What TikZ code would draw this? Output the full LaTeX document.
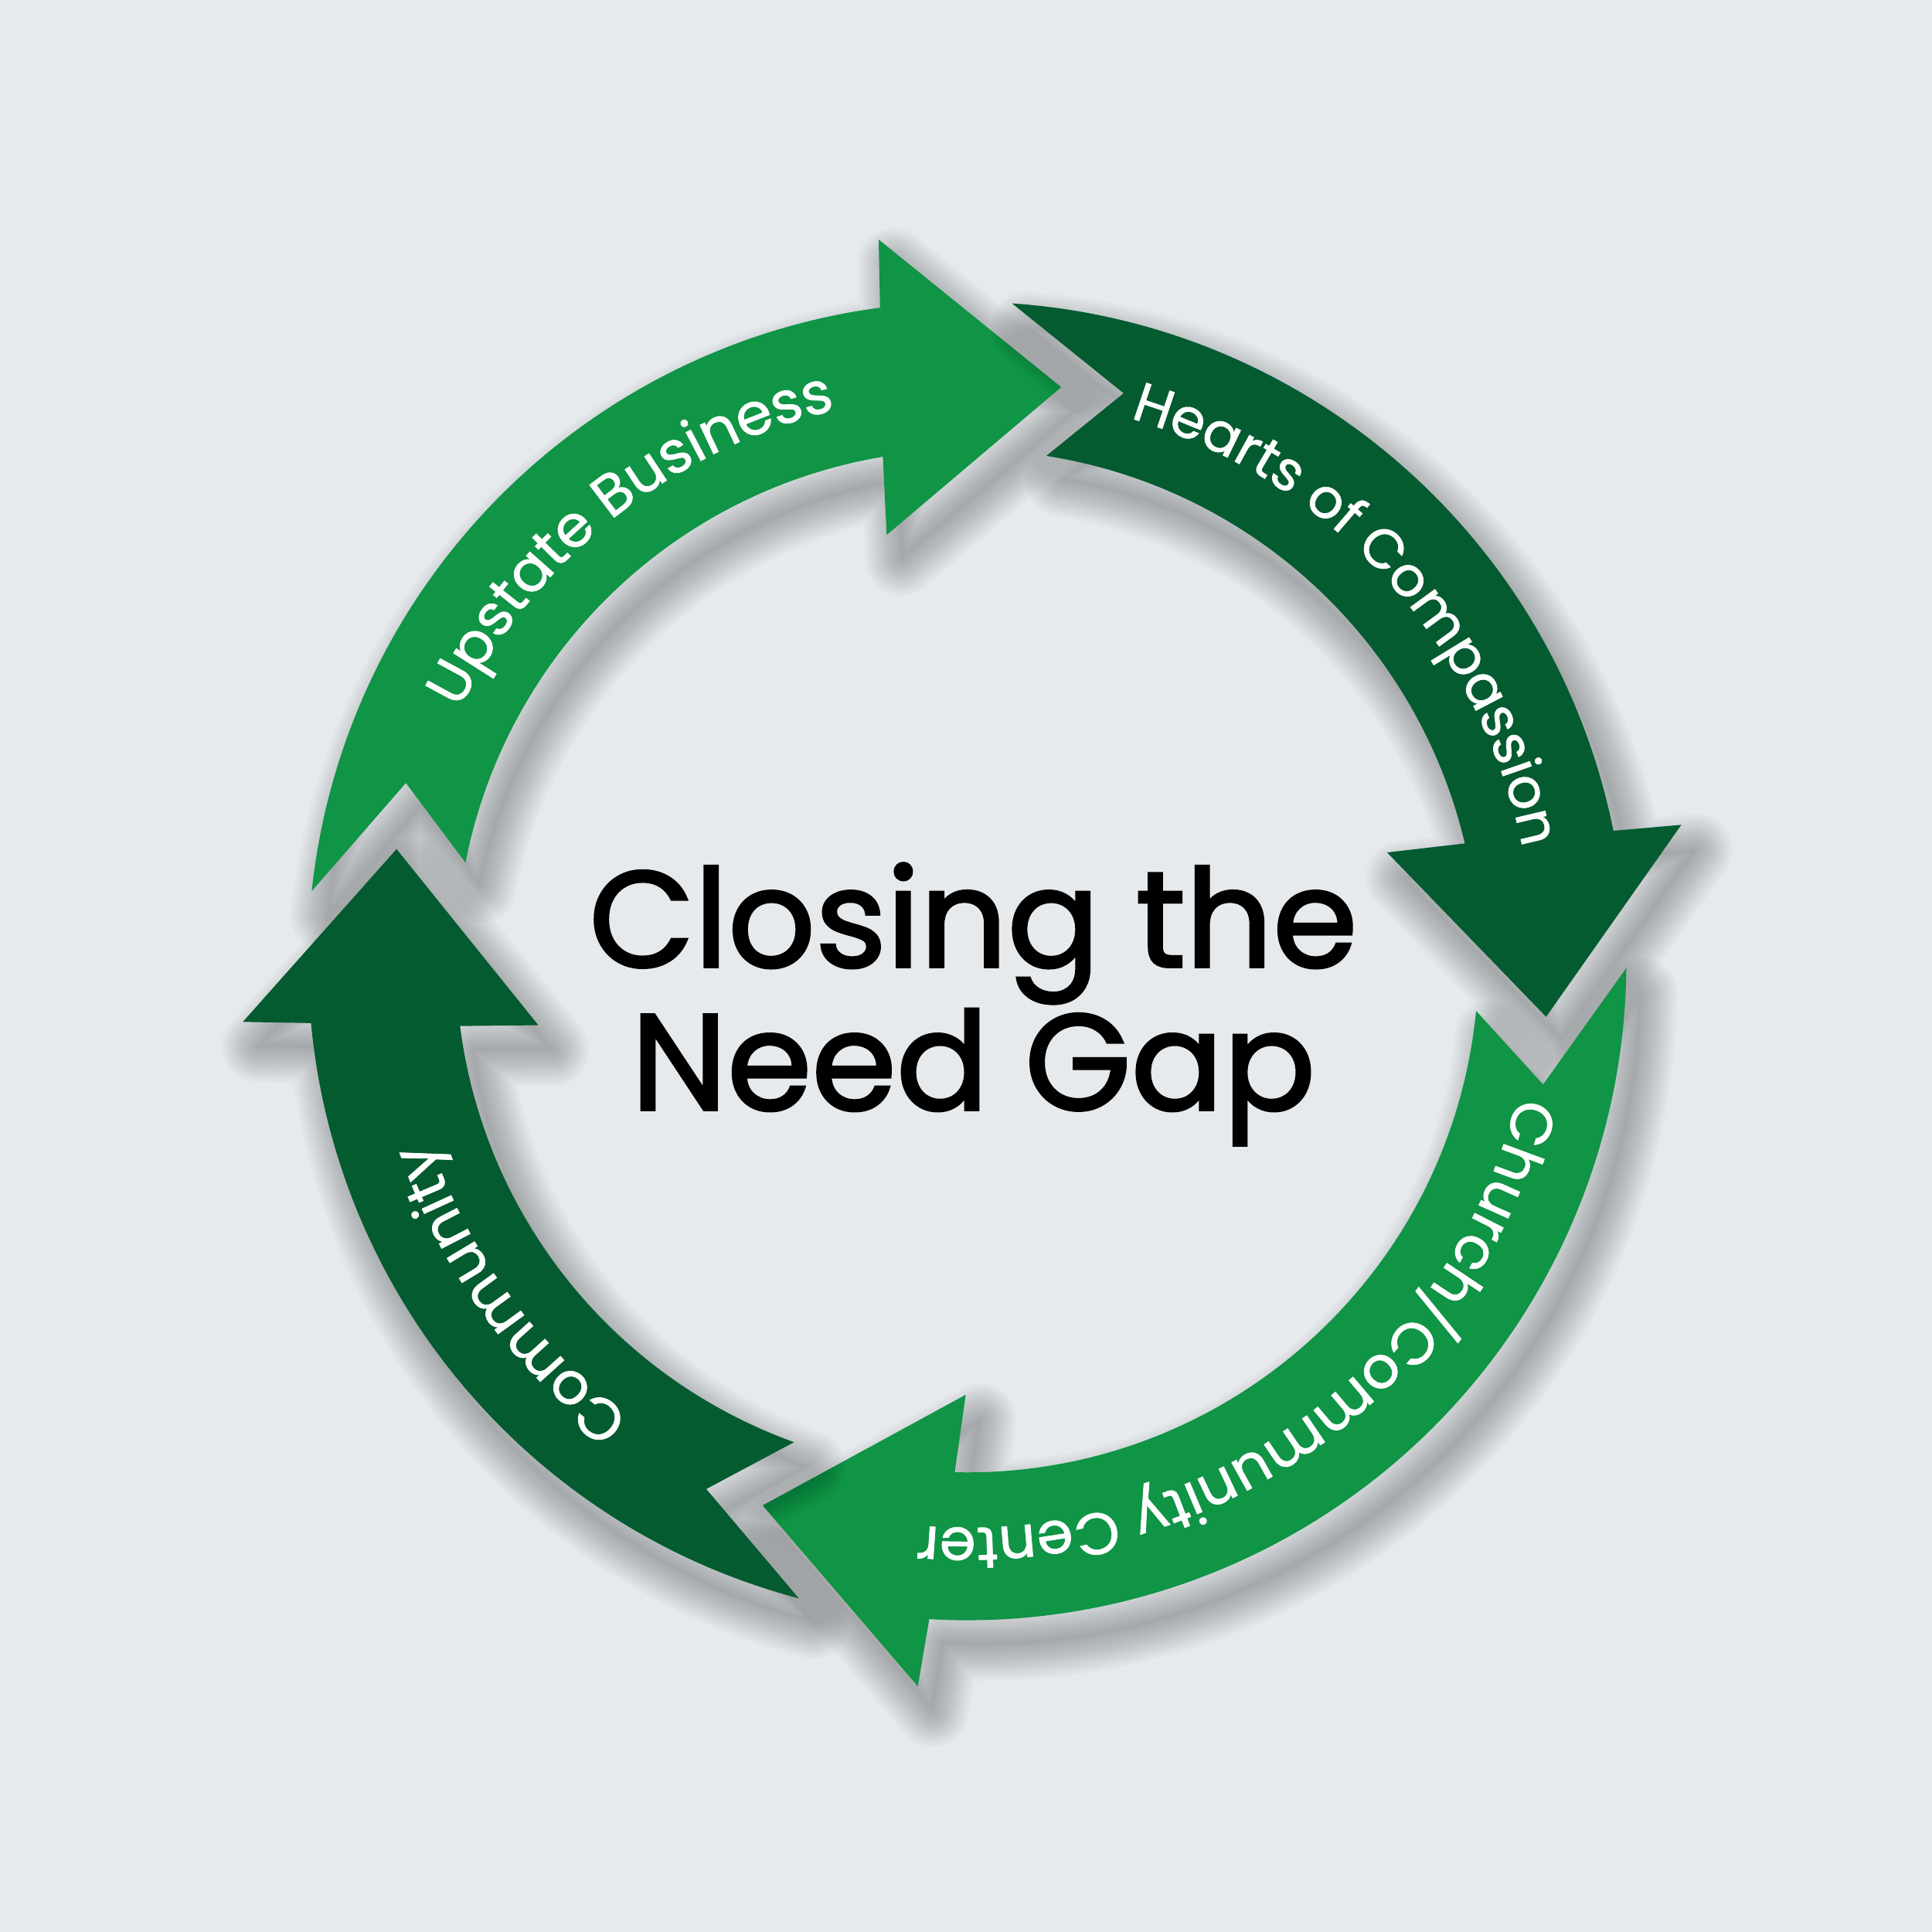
\documentclass[tikz,border=0pt]{standalone}
\usepackage{fontspec}
\setmainfont{Poppins}
\newfontfamily\titlefont{Poppins}[FakeBold=2]
\newfontfamily\arcfam{Poppins}[FakeBold=1]
\usetikzlibrary{decorations.text}

\definecolor{lightgreen}{RGB}{16,148,70}
\definecolor{darkgreen}{RGB}{5,91,48}
\definecolor{paper}{RGB}{230,234,237}

% #1 tail angle, #2 end of body, #3 tip angle
\newcommand{\arrowpath}[3]{({#1+2.5}:5.35) arc[start angle={#1+2.5}, end angle={#2-0.6}, radius=5.35]
    -- ({#2-1.2}:5.9) -- (#3:4.72) -- ({#2+2.5}:3.52) -- ({#2+1.3}:4.15)
    arc[start angle={#2+1.3}, end angle={#1-2.5}, radius=4.15] -- ({#1-9}:4.78) -- cycle}

% soft shadow, then the arrow; #4 colour
\newcommand{\cyclearrow}[4]{%
  \begin{scope}[shift={(0.12,-0.2)}]
    \foreach \w in {0.03,0.065,...,0.62}
      \draw[shadowline, line width=\w cm] \arrowpath{#1}{#2}{#3};
    \fill[black, opacity=0.02] \arrowpath{#1}{#2}{#3};
  \end{scope}
  \fill[#4] \arrowpath{#1}{#2}{#3};}

% #1 centre angle, #2 font size, #3 label
\newcommand{\arclabel}[3]{%
  \path[decorate, decoration={text along path, text align=center, text={|\arcfam\fontsize{#2}{15pt}\selectfont\color{white}|#3}}]
    ({#1+50}:4.6) arc[start angle={#1+50}, end angle={#1-50}, radius=4.6];}

\begin{document}
\begin{tikzpicture}[
    shadowline/.style={black, opacity=0.014, line join=round},
    title/.style={align=center, text=black, font=\titlefont\fontsize{31.5pt}{33pt}\selectfont}]
    \useasboundingbox (-7.85,-7.88) rectangle (7.83,7.80);
    \fill[paper] (-7.85,-7.88) rectangle (7.83,7.80);

    \cyclearrow{171.4}{98.2}{80.7}{lightgreen}
    \cyclearrow{83.6}{12}{-5.5}{darkgreen}
    \cyclearrow{-3.1}{-92.7}{-110.6}{lightgreen}
    \cyclearrow{-107.3}{-174}{-191.1}{darkgreen}

    \arclabel{128.5}{13.5pt}{Upstate Business}
    \arclabel{42.4}{12.7pt}{Hearts of Compassion}
    \arclabel{-54.4}{13.5pt}{Church/Community Center}
    \arclabel{-144}{13.5pt}{Community}

    \node[title] (gap) at (0.05,-0.35) {Closing the\\Need Gap};
\end{tikzpicture}
\end{document}
